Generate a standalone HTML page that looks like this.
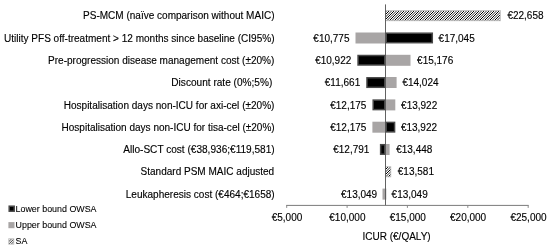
<!DOCTYPE html>
<html><head><meta charset="utf-8"><title>Tornado</title>
<style>
html,body{margin:0;padding:0;background:#fff;}
body{width:550px;height:249px;overflow:hidden;}
svg{display:block;font-family:"Liberation Sans",Arial,sans-serif;}
text{fill:#000;stroke:#000;stroke-width:0.13px;}
.lg text{stroke-width:0.08px;}
</style></head><body>
<svg width="550" height="249" viewBox="0 0 550 249">
<defs>
<linearGradient id="hg" gradientUnits="userSpaceOnUse" x1="0" y1="0" x2="1.25" y2="1.25" spreadMethod="repeat">
<stop offset="0" stop-color="#000"/><stop offset="0.35" stop-color="#fff"/><stop offset="0.65" stop-color="#fff"/><stop offset="1" stop-color="#000"/></linearGradient>
<linearGradient id="hl" gradientUnits="userSpaceOnUse" x1="0.4" y1="0" x2="1.65" y2="1.25" spreadMethod="repeat">
<stop offset="0" stop-color="#4a4a4a"/><stop offset="0.4" stop-color="#ededed"/><stop offset="0.6" stop-color="#ededed"/><stop offset="1" stop-color="#4a4a4a"/></linearGradient>
<filter id="hb" x="-5%" y="-25%" width="110%" height="150%"><feGaussianBlur stdDeviation="0.4"/></filter>
</defs>
<rect width="550" height="249" fill="#fff"/>

<text x="274.5" y="19.3" font-size="10.02" text-anchor="end">PS-MCM (naïve comparison without MAIC)</text>
<rect x="385.5" y="10.15" width="115.3" height="11.0" fill="#bcbcbc"/><rect x="385.5" y="11.05" width="114.4" height="9.1" fill="url(#hg)" filter="url(#hb)"/>
<text x="507.4" y="19.3" font-size="10">€22,658</text>
<text x="274.5" y="41.6" font-size="10.04" text-anchor="end">Utility PFS off-treatment &gt; 12 months since baseline (CI95%)</text>
<rect x="355.5" y="32.5" width="30.0" height="11.0" fill="#a8a5a5"/>
<text x="349.5" y="41.6" font-size="10" text-anchor="end">€10,775</text>
<rect x="386.25" y="33.20" width="46.04" height="9.50" fill="#000" stroke="#484848" stroke-width="1.5"/>
<text x="438.6" y="41.6" font-size="10">€17,045</text>
<text x="274.4" y="63.9" font-size="10.04" text-anchor="end">Pre-progression disease management cost (±20%)</text>
<rect x="358.06" y="55.50" width="26.69" height="9.50" fill="#000" stroke="#484848" stroke-width="1.5"/>
<text x="351.3" y="63.9" font-size="10" text-anchor="end">€10,922</text>
<rect x="385.5" y="54.8" width="25.0" height="11.0" fill="#a8a5a5"/>
<text x="417.1" y="63.9" font-size="10">€15,176</text>
<text x="272.3" y="86.2" font-size="10.10" text-anchor="end">Discount rate (0%;5%)</text>
<rect x="366.98" y="77.80" width="17.77" height="9.50" fill="#000" stroke="#484848" stroke-width="1.5"/>
<text x="360.2" y="86.2" font-size="10" text-anchor="end">€11,661</text>
<rect x="385.5" y="77.0" width="11.1" height="11.0" fill="#a8a5a5"/>
<text x="402.4" y="86.2" font-size="10">€14,024</text>
<text x="274.4" y="108.5" font-size="10.04" text-anchor="end">Hospitalisation days non-ICU for axi-cel (±20%)</text>
<rect x="373.19" y="100.10" width="11.56" height="9.50" fill="#000" stroke="#484848" stroke-width="1.5"/>
<text x="366.4" y="108.5" font-size="10" text-anchor="end">€12,175</text>
<rect x="385.5" y="99.4" width="9.8" height="11.0" fill="#a8a5a5"/>
<text x="401.1" y="108.5" font-size="10">€13,922</text>
<text x="274.7" y="130.8" font-size="10.02" text-anchor="end">Hospitalisation days non-ICU for tisa-cel (±20%)</text>
<rect x="372.4" y="121.7" width="13.1" height="11.0" fill="#a8a5a5"/>
<text x="366.4" y="130.8" font-size="10" text-anchor="end">€12,175</text>
<rect x="386.25" y="122.40" width="8.33" height="9.50" fill="#000" stroke="#484848" stroke-width="1.5"/>
<text x="400.9" y="130.8" font-size="10">€13,922</text>
<text x="274.7" y="153.1" font-size="10.08" text-anchor="end">Allo-SCT cost (€38,936;€119,581)</text>
<rect x="380.63" y="144.70" width="4.12" height="9.50" fill="#000" stroke="#484848" stroke-width="1.5"/>
<text x="369.4" y="153.1" font-size="10" text-anchor="end">€12,791</text>
<rect x="385.5" y="144.0" width="4.1" height="11.0" fill="#a8a5a5"/>
<text x="396.2" y="153.1" font-size="10">€13,448</text>
<text x="274.2" y="175.4" font-size="10.02" text-anchor="end">Standard PSM MAIC adjusted</text>
<rect x="385.5" y="166.25" width="5.7" height="11.0" fill="#bcbcbc"/><rect x="385.5" y="167.15" width="4.8" height="9.1" fill="url(#hg)" filter="url(#hb)"/>
<text x="397.8" y="175.4" font-size="10">€13,581</text>
<text x="274.7" y="197.7" font-size="10.04" text-anchor="end">Leukapheresis cost (€464;€1658)</text>
<rect x="382.5" y="188.6" width="3.0" height="11.0" fill="#a8a5a5"/>
<text x="377.2" y="197.7" font-size="10" text-anchor="end">€13,049</text>
<rect x="385.5" y="188.6" width="0.8" height="11.0" fill="#a8a5a5"/>
<text x="391.6" y="197.7" font-size="10">€13,049</text>
<line x1="385.5" y1="4.4" x2="385.5" y2="205.5" stroke="#505050" stroke-width="0.9"/>
<line x1="286.2" y1="205.4" x2="528.7" y2="205.4" stroke="#7a7a7a" stroke-width="1"/>
<line x1="286.7" y1="205.4" x2="286.7" y2="207.9" stroke="#858585" stroke-width="0.95"/>
<text x="287.0" y="220.85" font-size="10" text-anchor="middle">€5,000</text>
<line x1="347.1" y1="205.4" x2="347.1" y2="207.9" stroke="#858585" stroke-width="0.95"/>
<text x="347.4" y="220.85" font-size="10" text-anchor="middle">€10,000</text>
<line x1="407.4" y1="205.4" x2="407.4" y2="207.9" stroke="#858585" stroke-width="0.95"/>
<text x="407.8" y="220.85" font-size="10" text-anchor="middle">€15,000</text>
<line x1="467.8" y1="205.4" x2="467.8" y2="207.9" stroke="#858585" stroke-width="0.95"/>
<text x="468.1" y="220.85" font-size="10" text-anchor="middle">€20,000</text>
<line x1="528.2" y1="205.4" x2="528.2" y2="207.9" stroke="#858585" stroke-width="0.95"/>
<text x="528.5" y="220.85" font-size="10" text-anchor="middle">€25,000</text>
<text x="396.6" y="239.8" font-size="10" text-anchor="middle">ICUR (€/QALY)</text>
<g class="lg">
<rect x="9.2" y="206.2" width="5" height="5" fill="#000" stroke="#484848" stroke-width="1.5"/>
<text x="15.6" y="211.5" font-size="8.9">Lower bound OWSA</text>
<rect x="8.4" y="222.1" width="6.1" height="6.1" fill="#a8a5a5"/>
<text x="15.6" y="228.1" font-size="8.9">Upper bound OWSA</text>
<rect x="8.3" y="238.3" width="5.9" height="6.3" fill="#bdbdbd"/><rect x="9.1" y="239.2" width="4.3" height="4.6" fill="url(#hl)"/>
<text x="15.6" y="244.3" font-size="8.9">SA</text>
</g>
</svg></body></html>
